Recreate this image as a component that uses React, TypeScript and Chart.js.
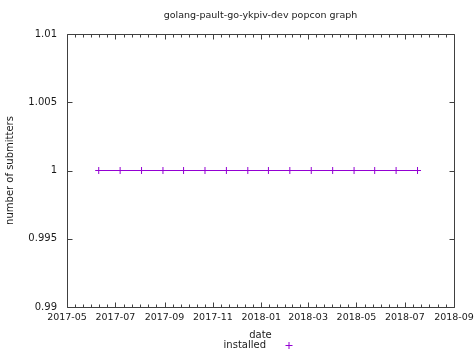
import { useEffect, useRef } from 'react';
import { Chart, registerables } from 'chart.js';

Chart.register(...registerables);

const TITLE = 'golang-pault-go-ykpiv-dev popcon graph';
const X_TITLE = 'date';
const Y_TITLE = 'number of submitters';
const SERIES_LABEL = 'installed';

const dates = [
  '2017-06-10', '2017-07-07', '2017-08-03', '2017-08-30', '2017-09-25', '2017-10-22',
  '2017-11-18', '2017-12-15', '2018-01-10', '2018-02-06', '2018-03-05', '2018-04-01',
  '2018-04-28', '2018-05-24', '2018-06-20', '2018-07-17',
];
const installed = [1, 1, 1, 1, 1, 1, 1, 1, 1, 1, 1, 1, 1, 1, 1, 1];

const xTickLabels = ['2017-05', '2017-07', '2017-09', '2017-11', '2018-01', '2018-03', '2018-05', '2018-07', '2018-09'];
const yTicks = [0.99, 0.995, 1, 1.005, 1.01];

const FONT = 'DejaVu Sans';
const TEXT = '#1a1a1a';
const FRAME = '#404040';
const SERIES_COLOR = '#9400d3';

const toMs = (s: string) => {
  const [y, m, d] = s.split('-').map(Number);
  return Date.UTC(y, m - 1, d || 1);
};
const fmtMonth = (v: number) => {
  const dt = new Date(v);
  return `${dt.getUTCFullYear()}-${String(dt.getUTCMonth() + 1).padStart(2, '0')}`;
};

const xTickValues = xTickLabels.map(toMs);

const framePlugin = {
  id: 'gnuplotFrame',
  afterDraw(chart: any) {
    const { ctx, chartArea, scales } = chart;
    const { left, right, top, bottom } = chartArea;
    const x = scales.x;
    const y = scales.y;
    const L = Math.round(left) + 0.5;
    const R = Math.round(right) + 0.5;
    const T = Math.round(top) + 0.5;
    const B = Math.round(bottom) + 0.5;
    ctx.save();
    ctx.strokeStyle = FRAME;
    ctx.lineWidth = 1;
    ctx.beginPath();
    ctx.rect(L, T, R - L, B - T);
    ctx.stroke();

    ctx.beginPath();
    xTickValues.forEach((v, i) => {
      const px = Math.round(x.getPixelForValue(v)) + 0.5;
      ctx.moveTo(px, B); ctx.lineTo(px, B - 5);
      ctx.moveTo(px, T); ctx.lineTo(px, T + 5);
      if (i < xTickValues.length - 1) {
        const p0 = x.getPixelForValue(v);
        const p1 = x.getPixelForValue(xTickValues[i + 1]);
        for (let k = 1; k < 6; k++) {
          const mp = Math.round(p0 + ((p1 - p0) * k) / 6) + 0.5;
          ctx.moveTo(mp, B); ctx.lineTo(mp, B - 3);
          ctx.moveTo(mp, T); ctx.lineTo(mp, T + 3);
        }
      }
    });
    yTicks.forEach((v) => {
      const py = Math.round(y.getPixelForValue(v)) + 0.5;
      ctx.moveTo(L, py); ctx.lineTo(L + 5, py);
      ctx.moveTo(R, py); ctx.lineTo(R - 5, py);
    });
    ctx.stroke();

    ctx.fillStyle = TEXT;
    ctx.font = `9.5px "${FONT}"`;
    ctx.textBaseline = 'middle';
    ctx.textAlign = 'center';
    ctx.fillText(TITLE, (left + right) / 2, 16);

    const label = chart.data.datasets[0].label;
    ctx.font = `10px "${FONT}"`;
    ctx.textAlign = 'right';
    ctx.fillText(label, 266, 345);
    ctx.strokeStyle = SERIES_COLOR;
    ctx.beginPath();
    ctx.moveTo(285.5, 345.5); ctx.lineTo(292.5, 345.5);
    ctx.moveTo(289, 342); ctx.lineTo(289, 349);
    ctx.stroke();
    ctx.restore();
  },
};

export default function App() {
  const ref = useRef<HTMLCanvasElement | null>(null);

  useEffect(() => {
    if (!ref.current) return;
    const chart = new Chart(ref.current, {
      type: 'line',
      data: {
        datasets: [
          {
            label: SERIES_LABEL,
            data: dates.map((d, i) => ({ x: toMs(d), y: installed[i] })),
            borderColor: SERIES_COLOR,
            backgroundColor: SERIES_COLOR,
            borderWidth: 1,
            pointStyle: 'cross',
            pointRadius: 3.5,
            pointBorderWidth: 1,
            pointBorderColor: SERIES_COLOR,
            tension: 0,
          },
        ],
      },
      options: {
        responsive: false,
        animation: false,
        layout: { padding: { top: 34, right: 20, left: 0, bottom: 0 } },
        font: { family: FONT, size: 10 },
        plugins: {
          legend: { display: false },
          title: { display: false },
          tooltip: { enabled: false },
        },
        scales: {
          x: {
            type: 'linear',
            min: toMs('2017-05'),
            max: toMs('2018-09'),
            afterBuildTicks: (scale: any) => {
              scale.ticks = xTickValues.map((v) => ({ value: v }));
            },
            afterFit: (scale: any) => {
              scale.height = 48;
              scale.paddingLeft = 0;
              scale.paddingRight = 0;
            },
            grid: { display: false, drawTicks: false },
            border: { display: false },
            ticks: {
              color: TEXT,
              padding: 5,
              maxRotation: 0,
              autoSkip: false,
              font: { family: FONT, size: 9.5 },
              callback: (v: any) => fmtMonth(Number(v)),
            },
            title: {
              display: true,
              text: X_TITLE,
              color: TEXT,
              font: { family: FONT, size: 10 },
              padding: { top: 0, bottom: 14 },
            },
          },
          y: {
            type: 'linear',
            min: 0.99,
            max: 1.01,
            afterBuildTicks: (scale: any) => {
              scale.ticks = yTicks.map((v) => ({ value: v }));
            },
            afterFit: (scale: any) => {
              scale.width = 67;
              scale.paddingTop = 0;
              scale.paddingBottom = 0;
            },
            grid: { display: false, drawTicks: false },
            border: { display: false },
            ticks: {
              color: TEXT,
              padding: 10,
              font: { family: FONT, size: 10 },
              callback: (v: any) => String(Number(Number(v).toFixed(3))),
            },
            title: {
              display: true,
              text: Y_TITLE,
              color: TEXT,
              font: { family: FONT, size: 10 },
              padding: { top: 4, bottom: 0 },
            },
          },
        },
      },
      plugins: [framePlugin],
    } as any);
    return () => chart.destroy();
  }, []);

  return (
    <canvas
      ref={ref}
      width={474}
      height={355}
      style={{ position: 'fixed', left: 0, top: 0, display: 'block', background: '#fff' }}
    />
  );
}
